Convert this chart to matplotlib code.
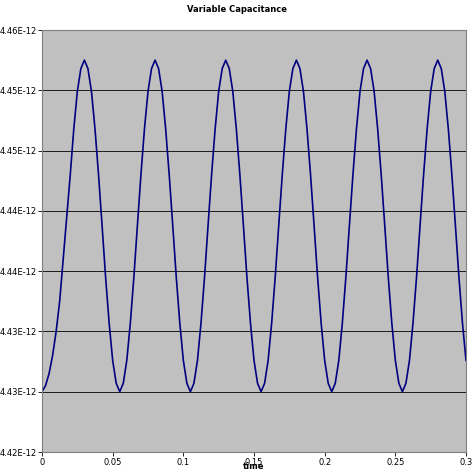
import matplotlib
matplotlib.use("Agg")
import matplotlib.pyplot as plt
import numpy as np

time = [i * 0.0025 for i in range(121)]
cap_pF = [
    4.4275, 4.4280, 4.4290, 4.4305, 4.4325, 4.4350, 4.4385, 4.4420, 4.4455, 4.4493, 4.4524, 4.4543,
    4.455, 4.4543, 4.4524, 4.4493, 4.4455, 4.4413, 4.4370, 4.4332, 4.4301, 4.4282, 4.4275, 4.4282, 4.4301, 4.4332, 4.4370, 4.4413, 4.4455, 4.4493, 4.4524, 4.4543,
    4.455, 4.4543, 4.4524, 4.4493, 4.4455, 4.4413, 4.4370, 4.4332, 4.4301, 4.4282, 4.4275, 4.4282, 4.4301, 4.4332, 4.4370, 4.4413, 4.4455, 4.4493, 4.4524, 4.4543,
    4.455, 4.4543, 4.4524, 4.4493, 4.4455, 4.4413, 4.4370, 4.4332, 4.4301, 4.4282, 4.4275, 4.4282, 4.4301, 4.4332, 4.4370, 4.4413, 4.4455, 4.4493, 4.4524, 4.4543,
    4.455, 4.4543, 4.4524, 4.4493, 4.4455, 4.4413, 4.4370, 4.4332, 4.4301, 4.4282, 4.4275, 4.4282, 4.4301, 4.4332, 4.4370, 4.4413, 4.4455, 4.4493, 4.4524, 4.4543,
    4.455, 4.4543, 4.4524, 4.4493, 4.4455, 4.4413, 4.4370, 4.4332, 4.4301, 4.4282, 4.4275, 4.4282, 4.4301, 4.4332, 4.4370, 4.4413, 4.4455, 4.4493, 4.4524, 4.4543,
    4.455, 4.4543, 4.4524, 4.4493, 4.4455, 4.4413, 4.4370, 4.4332, 4.4301,
]
y_ticks = [4.4225, 4.4275, 4.4325, 4.4375, 4.4425, 4.4475, 4.4525, 4.4575]
y_labels = ["4.42E-12", "4.43E-12", "4.43E-12", "4.44E-12", "4.44E-12", "4.45E-12", "4.45E-12", "4.46E-12"]
x_ticks = [0, 0.05, 0.1, 0.15, 0.2, 0.25, 0.3]
x_labels = ["0", "0.05", "0.1", "0.15", "0.2", "0.25", "0.3"]

fig = plt.figure(figsize=(4.74, 4.74), dpi=100)
ax = fig.add_axes([42/474, 22/474, 424/474, 422/474])
ax.set_facecolor("#C0C0C0")
ax.plot(time, cap_pF, color="#000080", lw=1.2)
ax.set_xlim(0, 0.3)
ax.set_ylim(4.4225, 4.4575)
ax.set_yticks(y_ticks)
ax.set_yticklabels(y_labels, fontsize=6)
ax.set_xticks(x_ticks)
ax.set_xticklabels(x_labels, fontsize=6)
ax.yaxis.grid(True, color="black", lw=0.6)
ax.tick_params(length=3, width=0.6, pad=1)
for s in ax.spines.values():
    s.set_color("#808080")
fig.text(254/474, 3/474, "time", ha="center", va="bottom", fontsize=6, fontweight="bold")
fig.text(0.5, 0.99, "Variable Capacitance", ha="center", va="top", fontsize=6, fontweight="bold")
fig.savefig("out.png", dpi=100)
